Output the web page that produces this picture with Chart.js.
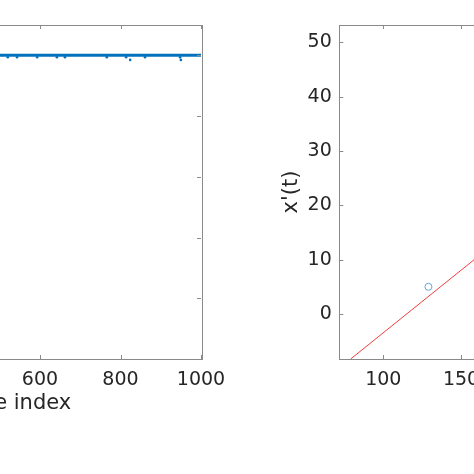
<!DOCTYPE html>
<html>
<head>
<meta charset="utf-8">
<script src="https://cdn.jsdelivr.net/npm/chart.js@4.4.1/dist/chart.umd.min.js"></script>
<style>
  html, body { margin: 0; padding: 0; background: #fff; overflow: hidden; width: 474px; height: 474px; }
  .panel { position: absolute; top: 0; }
</style>
</head>
<body>
<div class="panel" style="left:-300px"><canvas id="chartLeft" width="540" height="474"></canvas></div>
<div class="panel" style="left:240px"><canvas id="chartRight" width="600" height="474"></canvas></div>
<script>
// left panel: sample index vs value
const leftLineX = [0, 1000];
const leftLineY = [1.0, 1.0];
const leftDotsX = [520, 543, 593, 642, 662, 766, 814, 824, 861, 948, 950];
const leftDotsY = [0.994, 0.994, 0.994, 0.994, 0.994, 0.994, 0.994, 0.985, 0.994, 0.994, 0.985];

// right panel: x'(t)
const circleX = [129];
const circleY = [5];
const redLineX = [79, 330];
const redLineY = [-8.3, 49.5];

const tickColor = '#262626';
const boxColor = '#8a8a8a';
const fontFamily = '"DejaVu Sans", sans-serif';

const toPoints = (xs, ys) => xs.map((x, i) => ({ x: x, y: ys[i] }));

// matlab style box with inward ticks
const matlabBox = {
  id: 'matlabBox',
  afterDatasetsDraw(chart) {
    const { ctx, chartArea: a, scales: { x, y } } = chart;
    ctx.save();
    ctx.strokeStyle = boxColor;
    ctx.lineWidth = 1;
    ctx.strokeRect(Math.round(a.left) + 0.5, Math.round(a.top) + 0.5,
      Math.round(a.right - a.left), Math.round(a.bottom - a.top));
    ctx.beginPath();
    x.ticks.forEach(t => {
      const px = Math.round(x.getPixelForValue(t.value)) + 0.5;
      ctx.moveTo(px, a.bottom); ctx.lineTo(px, a.bottom - 4);
      ctx.moveTo(px, a.top); ctx.lineTo(px, a.top + 4);
    });
    y.ticks.forEach(t => {
      const py = Math.round(y.getPixelForValue(t.value)) + 0.5;
      ctx.moveTo(a.left, py); ctx.lineTo(a.left + 4, py);
      ctx.moveTo(a.right, py); ctx.lineTo(a.right - 4, py);
    });
    ctx.stroke();
    ctx.restore();
  }
};

const makeOptions = (xCfg, yCfg, yWidth, xHeight, padRight) => ({
  responsive: false,
  animation: false,
  devicePixelRatio: 1,
  layout: { padding: { top: 25, right: padRight, left: 0, bottom: 0 } },
  plugins: { legend: { display: false }, tooltip: { enabled: false } },
  scales: {
    x: Object.assign({
      type: 'linear',
      grid: { display: false, drawTicks: false },
      border: { display: false },
      ticks: {
        color: tickColor, font: { family: fontFamily, size: 19 }, padding: 10, maxRotation: 0, includeBounds: false,
        callback: v => String(v)
      },
      afterFit: s => { s.height = xHeight; s.paddingLeft = 0; s.paddingRight = 0; }
    }, xCfg),
    y: Object.assign({
      type: 'linear',
      grid: { display: false, drawTicks: false },
      border: { display: false },
      ticks: {
        color: tickColor, font: { family: fontFamily, size: 19 }, padding: 7.5, includeBounds: false,
        callback: v => String(v)
      },
      afterFit: s => { s.width = yWidth; s.paddingTop = 0; s.paddingBottom = 0; }
    }, yCfg)
  }
});

// left chart
const leftOptions = makeOptions(
  {
    min: 0, max: 1000,
    title: { display: true, text: 'Sample index', color: tickColor, font: { family: fontFamily, size: 21 }, padding: { top: 0, bottom: 58 } }
  },
  { min: 0, max: 1.1 },
  98.5, 115, 39
);
leftOptions.scales.x.ticks.stepSize = 200;
leftOptions.scales.y.ticks.stepSize = 0.2;

new Chart(document.getElementById('chartLeft'), {
  type: 'scatter',
  data: {
    datasets: [
      {
        data: toPoints(leftDotsX, leftDotsY),
        backgroundColor: '#0072BD',
        borderColor: '#0072BD',
        pointRadius: 1.3,
        borderWidth: 0
      },
      {
        data: toPoints(leftLineX, leftLineY),
        showLine: true,
        borderColor: '#0072BD',
        borderWidth: 3,
        pointRadius: 0
      }
    ]
  },
  options: leftOptions,
  plugins: [matlabBox]
});

// right chart
const rightOptions = makeOptions(
  { min: 71.7, max: 330 },
  {
    min: -8.3, max: 53.2,
    title: { display: true, text: "x'(t)", color: tickColor, font: { family: fontFamily, size: 21 }, padding: { top: 39, bottom: 0 } }
  },
  99.3, 115, 99
);
rightOptions.scales.x.ticks.stepSize = 50;
rightOptions.scales.y.ticks.stepSize = 10;

new Chart(document.getElementById('chartRight'), {
  type: 'scatter',
  data: {
    datasets: [
      {
        data: toPoints(circleX, circleY),
        pointStyle: 'circle',
        pointRadius: 3.5,
        backgroundColor: 'rgba(0,0,0,0)',
        borderColor: 'rgba(0,114,189,0.6)',
        borderWidth: 1
      },
      {
        data: toPoints(redLineX, redLineY),
        showLine: true,
        borderColor: 'rgba(240,40,40,0.9)',
        borderWidth: 1,
        pointRadius: 0
      }
    ]
  },
  options: rightOptions,
  plugins: [matlabBox]
});
</script>
</body>
</html>
